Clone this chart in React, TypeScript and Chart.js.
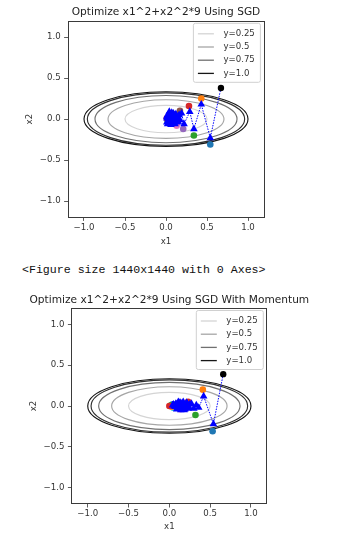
import React, { useEffect, useRef } from 'react';
import { Chart, registerables } from 'chart.js';

Chart.register(...registerables);

// ---- data ----
const contourLevels = [0.25, 0.5, 0.75, 1.0];
const contourLabels = ['y=0.25', 'y=0.5', 'y=0.75', 'y=1.0'];
const extraContourLevels = [0.92];
const coefX1 = 1;
const coefX2 = 9;
const axisTicks = [-1.0, -0.5, 0.0, 0.5, 1.0];
const axisTickLabels = ['\u22121.0', '\u22120.5', '0.0', '0.5', '1.0'];

const sgdTitle = 'Optimize x1^2+x2^2*9 Using SGD';
const sgdStartX1 = [0.67];
const sgdStartX2 = [0.38];
const sgdPathX1 = [0.67, 0.54, 0.43, 0.34, 0.29, 0.22, 0.19, 0.14, 0.16, 0.10, 0.12, 0.06, 0.09, 0.04, 0.07, 0.03, 0.11, 0.02, 0.05, 0.08, 0.01, 0.04, 0.06, 0.02, 0.13, 0.03, 0.05, 0.15, 0.09, 0.02, 0.12, 0.04, 0.17, 0.07, 0.01, 0.10, 0.03, 0.01];
const sgdPathX2 = [0.38, -0.23, 0.18, -0.12, 0.09, -0.06, 0.07, -0.04, 0.05, -0.02, 0.06, -0.03, 0.04, -0.05, 0.08, 0.0, -0.06, 0.05, -0.02, 0.02, -0.04, 0.06, -0.07, 0.02, 0.01, -0.01, 0.03, -0.03, 0.07, -0.06, 0.04, 0.09, -0.01, -0.04, 0.03, 0.0, -0.02, 0.01];
const sgdDotX1 = [0.54, 0.43, 0.34, 0.28, 0.21, 0.17, 0.13, 0.10, 0.08, 0.06, 0.05, 0.03, 0.02, 0.01];
const sgdDotX2 = [-0.31, 0.25, -0.20, 0.16, -0.12, 0.10, -0.08, 0.06, -0.05, 0.04, -0.03, 0.02, -0.02, 0.01];

const momTitle = 'Optimize x1^2+x2^2*9 Using SGD With Momentum';
const momStartX1 = [0.66];
const momStartX2 = [0.39];
const momPathX1 = [0.66, 0.54, 0.42, 0.36, 0.33, 0.30, 0.27, 0.24, 0.21, 0.19, 0.16, 0.14, 0.12, 0.10, 0.08, 0.13, 0.17, 0.20, 0.22, 0.18, 0.15, 0.11, 0.07, 0.05, 0.09, 0.14, 0.19, 0.25, 0.23, 0.17, 0.12, 0.06, 0.04];
const momPathX2 = [0.39, -0.22, 0.12, -0.02, 0.01, -0.03, 0.03, -0.01, 0.04, -0.04, 0.02, -0.05, 0.04, -0.02, 0.03, -0.03, 0.05, -0.02, 0.03, -0.05, 0.01, 0.05, -0.01, 0.02, -0.04, 0.04, 0.0, 0.02, -0.03, -0.01, 0.02, 0.0, 0.01];
const momDotX1 = [0.53, 0.41, 0.32, 0.23, 0.20, 0.16, 0.13, 0.10, 0.07, 0.05, 0.04, 0.03, 0.02, 0.0];
const momDotX2 = [-0.31, 0.20, -0.11, 0.05, -0.03, 0.02, -0.04, 0.03, 0.01, -0.02, 0.02, -0.01, 0.01, 0.0];

const figureText = '<Figure size 1440x1440 with 0 Axes>';

// ---- styles ----
const palette = ['#1f77b4', '#ff7f0e', '#2ca02c', '#d62728', '#9467bd', '#8c564b', '#e377c2', '#7f7f7f', '#bcbd22', '#17becf'];
const contourColors = ['#d4d4d4', '#a6a6a6', '#707070', '#161616'];
const extraContourColors = ['#303030'];
const FONT = "'DejaVu Sans', sans-serif";
const W = 357;

type Area = { left: number; right: number; top: number; bottom: number };
type Props = {
  title: string;
  startX1: number[]; startX2: number[];
  pathX1: number[]; pathX2: number[];
  dotX1: number[]; dotX2: number[];
  top: number; height: number; area: Area;
  titleY: number; xLabelY: number; yLabelX: number;
};

function OptimChart(p: Props) {
  const ref = useRef<HTMLCanvasElement>(null);
  useEffect(() => {
    if (!ref.current) return;
    const titleSize = 10.6;
    const lh = 1.2;
    const labSize = 8.6;
    const xPadBottom = p.height - p.xLabelY - (labSize * lh) / 2;
    const yPadTop = p.yLabelX - (labSize * lh) / 2;

    const contourPlugin = {
      id: 'contours',
      beforeDatasetsDraw(chart: any) {
        const { ctx, chartArea: a } = chart;
        const xs = chart.scales.x;
        const ys = chart.scales.y;
        const cx = xs.getPixelForValue(0);
        const cy = ys.getPixelForValue(0);
        ctx.save();
        ctx.beginPath();
        ctx.rect(a.left, a.top, a.right - a.left, a.bottom - a.top);
        ctx.clip();
        const all = [
          ...contourLevels.map((l, i) => ({ l, c: contourColors[i] })),
          ...extraContourLevels.map((l, i) => ({ l, c: extraContourColors[i] })),
        ];
        all.forEach(({ l, c }) => {
          const rx = xs.getPixelForValue(Math.sqrt(l / coefX1)) - cx;
          const ry = cy - ys.getPixelForValue(Math.sqrt(l / coefX2));
          ctx.beginPath();
          ctx.ellipse(cx, cy, rx, ry, 0, 0, Math.PI * 2);
          ctx.strokeStyle = c;
          ctx.lineWidth = 1.15;
          ctx.stroke();
        });
        ctx.restore();
      },
      afterDraw(chart: any) {
        const { ctx, chartArea: a } = chart;
        ctx.save();
        // title
        ctx.font = `${titleSize}px ${FONT}`;
        ctx.fillStyle = '#222';
        ctx.textAlign = 'center';
        ctx.textBaseline = 'middle';
        ctx.fillText(p.title, (a.left + a.right) / 2, p.titleY);
        // frame
        ctx.strokeStyle = '#3a3a3a';
        ctx.lineWidth = 1;
        ctx.strokeRect(Math.round(a.left) + 0.5, Math.round(a.top) + 0.5, Math.round(a.right - a.left) - 1, Math.round(a.bottom - a.top) - 1);
        // legend
        const bw = 67;
        const bh = 59;
        const bx = a.right - 4 - bw;
        const by = a.top + 2.5;
        ctx.beginPath();
        ctx.roundRect(bx, by, bw, bh, 2);
        ctx.fillStyle = 'rgba(255,255,255,0.85)';
        ctx.fill();
        ctx.strokeStyle = '#d0d0d0';
        ctx.lineWidth = 1;
        ctx.stroke();
        ctx.font = `${labSize}px ${FONT}`;
        ctx.textBaseline = 'middle';
        ctx.textAlign = 'left';
        contourLabels.forEach((lab, i) => {
          const y = by + 10.5 + i * 13.2;
          ctx.beginPath();
          ctx.moveTo(bx + 4.5, y);
          ctx.lineTo(bx + 20.5, y);
          ctx.strokeStyle = contourColors[i];
          ctx.lineWidth = 1.3;
          ctx.stroke();
          ctx.fillStyle = '#333';
          ctx.fillText(lab, bx + 30, y);
        });
        ctx.restore();
      },
    };

    const tickFont = { family: FONT, size: labSize };
    const chart = new Chart(ref.current, {
      type: 'scatter',
      data: {
        datasets: [
          {
            label: 'start',
            data: p.startX1.map((x, i) => ({ x, y: p.startX2[i] })),
            pointRadius: 3.2,
            pointBackgroundColor: '#000',
            pointBorderWidth: 0,
            order: 0,
          },
          {
            label: 'path',
            data: p.pathX1.map((x, i) => ({ x, y: p.pathX2[i] })),
            showLine: true,
            borderColor: '#0000ff',
            borderWidth: 1,
            borderDash: [1.5, 1.2],
            pointStyle: 'triangle',
            pointRadius: (c: any) => (c.dataIndex === 0 ? 0 : 4.4),
            pointBackgroundColor: '#0000ff',
            pointBorderColor: '#0000ff',
            pointBorderWidth: 0,
            order: 1,
          },
          {
            label: 'iterates',
            data: p.dotX1.map((x, i) => ({ x, y: p.dotX2[i] })),
            pointRadius: 3.3,
            pointBackgroundColor: p.dotX1.map((_, i) => palette[i % palette.length]),
            pointBorderWidth: 0,
            order: 2,
          },
        ] as any,
      },
      options: {
        animation: false,
        responsive: false,
        events: [],
        layout: { padding: { left: 0, top: p.area.top, right: W - p.area.right, bottom: 0 } },
        plugins: {
          legend: { display: false },
          tooltip: { enabled: false },
          title: { display: false },
        },
        scales: {
          x: {
            type: 'linear',
            min: -1.2,
            max: 1.2,
            afterBuildTicks: (s: any) => { s.ticks = axisTicks.map((v) => ({ value: v })); },
            afterFit: (s: any) => { s.height = p.height - p.area.bottom; },
            ticks: { callback: (_v: any, i: number) => axisTickLabels[i], font: tickFont, color: '#333', padding: 1.5, maxRotation: 0, autoSkip: false },
            grid: { drawOnChartArea: false, drawTicks: true, tickLength: 3.5, color: '#333', lineWidth: 0.8 },
            border: { display: false },
            title: { display: true, text: 'x1', color: '#333', font: { family: FONT, size: labSize, lineHeight: lh }, padding: { top: 0, bottom: xPadBottom } },
          },
          y: {
            type: 'linear',
            min: -1.2,
            max: 1.2,
            afterBuildTicks: (s: any) => { s.ticks = axisTicks.map((v) => ({ value: v })); },
            afterFit: (s: any) => { s.width = p.area.left; },
            ticks: { callback: (_v: any, i: number) => axisTickLabels[i], font: tickFont, color: '#333', padding: 3.5, autoSkip: false },
            grid: { drawOnChartArea: false, drawTicks: true, tickLength: 3.5, color: '#333', lineWidth: 0.8 },
            border: { display: false },
            title: { display: true, text: 'x2', color: '#333', font: { family: FONT, size: labSize, lineHeight: lh }, padding: { top: yPadTop, bottom: 0 } },
          },
        },
      } as any,
      plugins: [contourPlugin],
    });
    return () => chart.destroy();
  }, []);
  return (
    <div style={{ position: 'absolute', left: 0, top: p.top, width: W, height: p.height }}>
      <canvas ref={ref} width={W} height={p.height} style={{ display: 'block' }} />
    </div>
  );
}

export default function App() {
  return (
    <div style={{ position: 'fixed', left: 0, top: 0, width: W, height: 548, background: '#fff', overflow: 'hidden' }}>
      <OptimChart
        title={sgdTitle}
        startX1={sgdStartX1} startX2={sgdStartX2}
        pathX1={sgdPathX1} pathX2={sgdPathX2}
        dotX1={sgdDotX1} dotX2={sgdDotX2}
        top={0} height={250}
        area={{ left: 67.6, right: 264.4, top: 20.8, bottom: 217.4 }}
        titleY={12.5} xLabelY={241.3} yLabelX={30}
      />
      <div style={{ position: 'absolute', left: 22, top: 262, fontFamily: "'Liberation Mono', monospace", fontSize: 11.6, lineHeight: '16px', color: '#111', whiteSpace: 'pre' }}>
        {figureText}
      </div>
      <OptimChart
        title={momTitle}
        startX1={momStartX1} startX2={momStartX2}
        pathX1={momPathX1} pathX2={momPathX2}
        dotX1={momDotX1} dotX2={momDotX2}
        top={285} height={263}
        area={{ left: 71.4, right: 267.3, top: 23, bottom: 219 }}
        titleY={15} xLabelY={241.7} yLabelX={33.3}
      />
    </div>
  );
}
